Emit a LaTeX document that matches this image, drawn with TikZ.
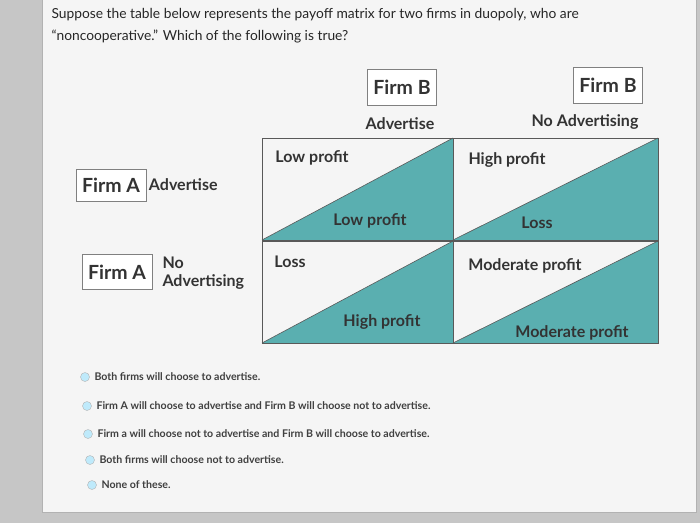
\documentclass[tikz,border=0pt]{standalone}
\usepackage{fontspec}
\setmainfont{Lato}
\definecolor{tealc}{HTML}{5AAFB0}
\begin{document}
\begin{tikzpicture}[x=1pt,y=-1pt,
  cell/.style={draw=gray!70!black,line width=0.6pt},
  tri/.style={fill=tealc},
  lab/.style={font=\bfseries\fontsize{16}{18}\selectfont,text=black!80},
  firm/.style={draw=gray,fill=white,font=\bfseries\fontsize{19.5}{22}\selectfont,text=black!80,minimum height=36pt,inner xsep=6pt},
  opt/.style={font=\bfseries\fontsize{10.6}{12}\selectfont,anchor=west,text=black!75},
  radio/.style={circle,draw=gray!60,fill=cyan!25,minimum size=9pt,inner sep=0pt}]
\useasboundingbox (0,0) rectangle (700,523);
\fill[gray!45] (0,0) rectangle (700,523);
\fill[gray!8] (42,0) rectangle (696,512);
\draw[gray!60] (42,0) -- (42,512) -- (696,512) -- (696,0);
\node[anchor=west,font=\fontsize{13.8}{15}\selectfont,text=black!85] (q1) at (48,15) {Suppose the table below represents the payoff matrix for two firms in duopoly, who are};
\node[anchor=west,font=\fontsize{13.8}{15}\selectfont,text=black!85] (q2) at (48,36) {``noncooperative.'' Which of the following is true?};
\foreach \x/\w in {262/191,453/205}{
 \foreach \y in {138,241}{
  \fill[tri] (\x,\y+102) -- (\x+\w,\y) -- (\x+\w,\y+102) -- cycle;
  \draw[cell] (\x,\y) rectangle (\x+\w,\y+102);
  \draw[cell] (\x,\y+102) -- (\x+\w,\y);
 }}
\node[firm] (fb1) at (402,87) {Firm B};
\node[firm] (fb2) at (608,85) {Firm B};
\node[lab] (ad1) at (400,124) {Advertise};
\node[lab] (na1) at (585,122) {No Advertising};
\node[firm,minimum height=32pt] (fa1) at (111,185) {Firm A};
\node[lab,anchor=west,inner sep=0pt] (aa) at (fa1.east) {\,Advertise};
\node[firm,minimum height=35pt] (fa2) at (117,272) {Firm A};
\node[lab,anchor=west,align=left] (an) at (159,273) {No\\Advertising};
\node[lab] (c1) at (312,158) {Low profit};
\node[lab] (c2) at (370,221) {Low profit};
\node[lab] (c3) at (507,160) {High profit};
\node[lab] (c4) at (537,223) {Loss};
\node[lab] (c5) at (290,262) {Loss};
\node[lab] (c6) at (382,322) {High profit};
\node[lab] (c7) at (525,266) {Moderate profit};
\node[lab] (c8) at (572,333) {Moderate profit};
\foreach \n/\x/\y/\t in {o1/85/377/{Both firms will choose to advertise.},o2/87/406/{Firm A will choose to advertise and Firm B will choose not to advertise.},o3/88/434/{Firm a will choose not to advertise and Firm B will choose to advertise.},o4/90/460/{Both firms will choose not to advertise.},o5/92/485/{None of these.}}{
 \node[radio] (r\n) at (\x,\y) {};
 \node[opt] (\n) at (\x+6,\y) {\t};
}
\end{tikzpicture}
\end{document}
